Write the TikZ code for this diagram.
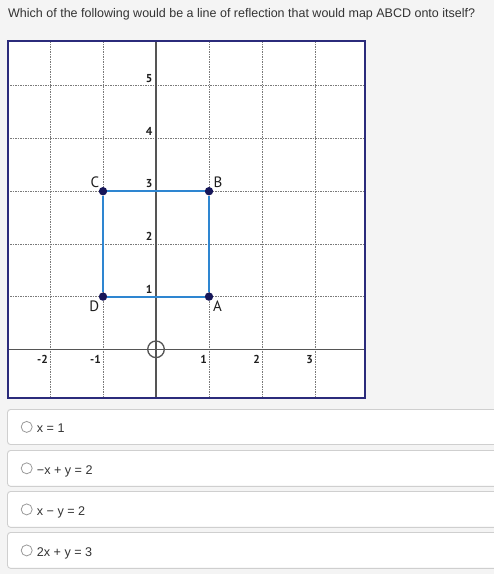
\documentclass[tikz,border=0pt]{standalone}
\usepackage{fontspec}
\setmainfont{Liberation Sans}
\newfontfamily\gridfont{PT Sans}
\definecolor{bg}{HTML}{F4F4F4}
\definecolor{qtext}{HTML}{333333}
\definecolor{boxline}{HTML}{CFCFCF}
\definecolor{radioline}{HTML}{9A9A9A}
\definecolor{frame}{HTML}{2B2B7B}
\definecolor{axiscol}{HTML}{555555}
\definecolor{gridcol}{HTML}{7A7A7A}
\definecolor{sqblue}{HTML}{2E86D1}
\definecolor{dotcol}{HTML}{161659}
\definecolor{lblcol}{HTML}{1E1E1E}
\tikzset{
  gridline/.style={draw=gridcol, line width=0.8pt, dash pattern=on 1.6pt off 0.9pt},
  axisline/.style={draw=axiscol, line width=1.4pt},
  vertex/.style={circle, fill=dotcol, minimum size=8.4pt, inner sep=0pt},
  ptlabel/.style={font=\gridfont\fontsize{15}{15}\selectfont, text=lblcol, inner sep=0pt},
  numlabel/.style={font=\gridfont\bfseries\fontsize{11.5}{12}\selectfont, text=lblcol, inner sep=0pt},
  answerbox/.style={draw=boxline, fill=white, line width=0.9pt, rounded corners=3pt},
  radio/.style={circle, draw=radioline, fill=white, line width=0.8pt, minimum size=11pt, inner sep=0pt},
  anstext/.style={anchor=base west, inner sep=0pt, text=qtext, font=\fontsize{12.6}{14}\selectfont},
}
\begin{document}
\begin{tikzpicture}[x=1pt,y=-1pt]
\useasboundingbox (0,0) rectangle (494,574);
\fill[bg] (0,0) rectangle (494,574);
\node[anchor=base west, inner sep=0pt, text=qtext, font=\fontsize{12.5}{14}\selectfont] (question) at (8,17.3)
  {Which of the following would be a line of reflection that would map ABCD onto itself?};

\begin{scope}[shift={(156,349.3)}, x=53pt, y=52.7pt]
  \fill[white] (-2.8,-0.92) rectangle (3.94,5.85);
  \foreach \k in {-2,-1,1,2,3} \draw[gridline] (\k,-0.92) -- (\k,5.85);
  \foreach \k in {1,...,5} \draw[gridline] (-2.8,\k) -- (3.94,\k);
  \draw[axisline] (-2.8,0) -- (3.94,0);
  \draw[axisline] (0,-0.92) -- (0,5.85);
  \node[circle, draw=axiscol, line width=1.3pt, minimum size=16.6pt, inner sep=0pt] (origin) at (0,0) {};
  \draw[frame, line width=2pt] (-2.8,-0.92) rectangle (3.94,5.85);
  \foreach \k in {1,...,5}
    \node[numlabel, anchor=south east] (y\k) at ([xshift=-3.5pt,yshift=3.3pt]0,\k) {\k};
  \foreach \k/\n in {-2/m2,-1/m1,1/p1,2/p2,3/p3}
    \node[numlabel, anchor=north east] (x\n) at ([xshift=-2pt,yshift=-5.5pt]\k,0) {\k};
  \node[vertex] (A) at (1,1) {};
  \node[vertex] (B) at (1,3) {};
  \node[vertex] (C) at (-1,3) {};
  \node[vertex] (D) at (-1,1) {};
  \draw[sqblue, line width=2pt] (A) -- (B) -- (C) -- (D) -- (A);
  \node[ptlabel, anchor=south east] (lC) at ([xshift=-3.5pt,yshift=3.5pt]C.center) {C};
  \node[ptlabel, anchor=south west] (lB) at ([xshift=4.5pt,yshift=3.5pt]B.center) {B};
  \node[ptlabel, anchor=north east] (lD) at ([xshift=-3.5pt,yshift=-4.5pt]D.center) {D};
  \node[ptlabel, anchor=north west] (lA) at ([xshift=4pt,yshift=-4.5pt]A.center) {A};
\end{scope}

\draw[answerbox] (7.5,409.5) rectangle (505,444.5);
\draw[answerbox] (7.5,450.5) rectangle (505,486.3);
\draw[answerbox] (7.5,491.5) rectangle (505,527.3);
\draw[answerbox] (7.5,532.5) rectangle (505,568.3);
\node[radio] (r1) at (26.7,426.9) {};
\node[radio] (r2) at (26.7,468.3) {};
\node[radio] (r3) at (26.7,509.4) {};
\node[radio] (r4) at (26.7,550.4) {};
\node[anstext] (a1) at (36.7,432.4) {x = 1};
\node[anstext] (a2) at (36.7,474) {−x + y = 2};
\node[anstext] (a3) at (36.7,515) {x − y = 2};
\node[anstext] (a4) at (36.7,556) {2x + y = 3};
\end{tikzpicture}
\end{document}
